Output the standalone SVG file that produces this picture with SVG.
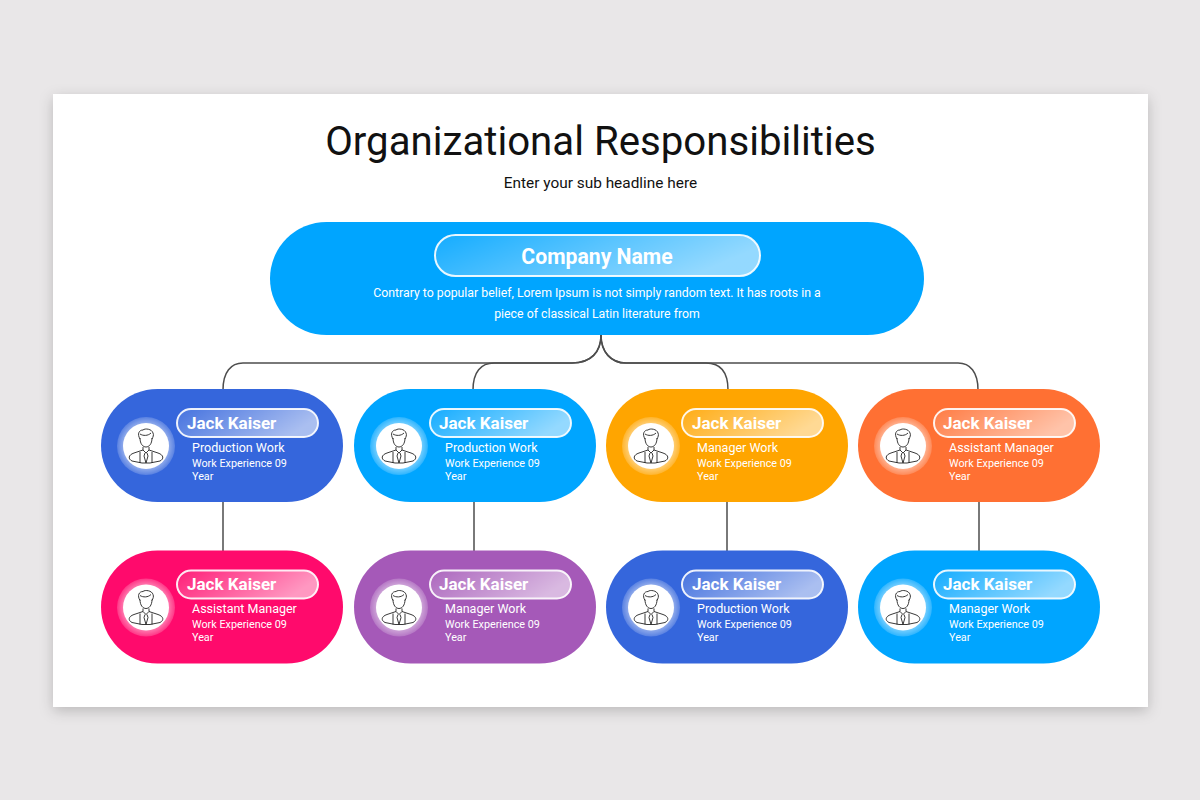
<svg xmlns="http://www.w3.org/2000/svg" xmlns:xlink="http://www.w3.org/1999/xlink" width="1200" height="800" viewBox="0 0 1200 800">
<style>
text{font-family:Roboto,"Liberation Sans",sans-serif;fill:#fff}
.t{fill:#111;text-anchor:middle}
.n{font-size:17px;font-weight:700}
.r{font-size:12.500px}
.w{font-size:10.800px}
.d{font-size:12.300px;text-anchor:middle}
.pill{fill:url(#glass);stroke:#fff;stroke-opacity:.9;stroke-width:2}
.c{fill:none;stroke:#4d4d4d;stroke-width:1.5}
.ic{fill:none;stroke:#222;stroke-width:.9}
</style>
<defs>
<linearGradient id="glass" x1="0" y1="0" x2="1" y2="0.3"><stop offset="0" stop-color="#fff" stop-opacity=".08"/><stop offset="1" stop-color="#fff" stop-opacity=".58"/></linearGradient>
<radialGradient id="halo"><stop offset=".7" stop-color="#fff" stop-opacity=".55"/><stop offset="1" stop-color="#fff" stop-opacity=".18"/></radialGradient>
<filter id="sh" x="-5%" y="-5%" width="110%" height="112%"><feDropShadow dx="0" dy="4" stdDeviation="7" flood-color="#000" flood-opacity=".2"/></filter>
<g id="person">
<circle cx="0" cy="0" r="29" fill="url(#halo)"/>
<circle cx="0" cy="0" r="23" fill="#fff"/>
<path class="ic" d="M-6-7C-9-12-7-16-3-16C-1-18 6-17 7-13C8-11 7-9 6-7M-6-12C-3-10 2-10 5-13M-6-8C-6-2-3 1 0 1C3 1 6-2 6-8M-3 1V4L-12 7C-18 9-18 13-14 15L-4 17H4L14 15C18 13 18 9 12 7L3 4V1M-3 4L0 7L3 4M-1 7L-2 10L0 17L2 10L1 7M-6 6V17M6 6V17"/>
</g>
<g id="card">
<use xlink:href="#person" x="45" y="57"/>
<rect class="pill" x="76" y="20" width="141" height="28" rx="14"/>
</g>
</defs>
<rect width="1200" height="800" fill="#e9e7e8"/>
<rect x="53" y="94" width="1095" height="613" fill="#fff" filter="url(#sh)"/>
<text class="t" x="600.500" y="155" font-size="40.200">Organizational Responsibilities</text>
<text class="t" x="600.500" y="188" font-size="15.400">Enter your sub headline here</text>
<g id="connectors">
<path class="c" d="M601 335C601 352 591 363 572 363H243C231 363 223 372 223 390"/>
<path class="c" d="M601 335C601 352 591 363 572 363H494C481 363 473 372 473 390"/>
<path class="c" d="M601 335C601 352 611 363 626 363H706C720 363 728 372 728 390"/>
<path class="c" d="M601 335C601 352 611 363 626 363H958C970 363 978 372 978 390"/>
<path class="c" d="M223 502V551M474 502V551M727 502V551M979 502V551"/>
</g>
<g id="root">
<rect x="270" y="222" width="654" height="113" rx="56.500" fill="#00a5ff"/>
<rect class="pill" x="435" y="235" width="325" height="41" rx="20.500"/>
<text x="597" y="264" font-size="21.200" font-weight="700" text-anchor="middle">Company Name</text>
<text class="d" x="597" y="297">Contrary to popular belief, Lorem Ipsum is not simply random text. It has roots in a</text>
<text class="d" x="597" y="318">piece of classical Latin literature from</text>
</g>
<g id="n1" transform="translate(101 389)"><rect width="242" height="113" rx="56.500" fill="#3566dc"/><use xlink:href="#card"/><text class="n" x="86" y="39.500">Jack Kaiser</text><text class="r" x="91" y="62.500">Production Work</text><text class="w" x="91" y="78">Work Experience 09</text><text class="w" x="91" y="91">Year</text></g>
<g id="n2" transform="translate(354 389)"><rect width="242" height="113" rx="56.500" fill="#00a5ff"/><use xlink:href="#card"/><text class="n" x="85" y="39.500">Jack Kaiser</text><text class="r" x="91" y="62.500">Production Work</text><text class="w" x="91" y="78">Work Experience 09</text><text class="w" x="91" y="91">Year</text></g>
<g id="n3" transform="translate(606 389)"><rect width="242" height="113" rx="56.500" fill="#ffa500"/><use xlink:href="#card"/><text class="n" x="86" y="39.500">Jack Kaiser</text><text class="r" x="91" y="62.500">Manager Work</text><text class="w" x="91" y="78">Work Experience 09</text><text class="w" x="91" y="91">Year</text></g>
<g id="n4" transform="translate(858 389)"><rect width="242" height="113" rx="56.500" fill="#ff7033"/><use xlink:href="#card"/><text class="n" x="85" y="39.500">Jack Kaiser</text><text class="r" x="91" y="62.500">Assistant Manager</text><text class="w" x="91" y="78">Work Experience 09</text><text class="w" x="91" y="91">Year</text></g>
<g id="n5" transform="translate(101 550.500)"><rect width="242" height="113" rx="56.500" fill="#ff0a6c"/><use xlink:href="#card"/><text class="n" x="86" y="39.500">Jack Kaiser</text><text class="r" x="91" y="62">Assistant Manager</text><text class="w" x="91" y="77.500">Work Experience 09</text><text class="w" x="91" y="90.500">Year</text></g>
<g id="n6" transform="translate(354 550.500)"><rect width="242" height="113" rx="56.500" fill="#a559b8"/><use xlink:href="#card"/><text class="n" x="85" y="39.500">Jack Kaiser</text><text class="r" x="91" y="62">Manager Work</text><text class="w" x="91" y="77.500">Work Experience 09</text><text class="w" x="91" y="90.500">Year</text></g>
<g id="n7" transform="translate(606 550.500)"><rect width="242" height="113" rx="56.500" fill="#3566dc"/><use xlink:href="#card"/><text class="n" x="86" y="39.500">Jack Kaiser</text><text class="r" x="91" y="62">Production Work</text><text class="w" x="91" y="77.500">Work Experience 09</text><text class="w" x="91" y="90.500">Year</text></g>
<g id="n8" transform="translate(858 550.500)"><rect width="242" height="113" rx="56.500" fill="#00a5ff"/><use xlink:href="#card"/><text class="n" x="85" y="39.500">Jack Kaiser</text><text class="r" x="91" y="62">Manager Work</text><text class="w" x="91" y="77.500">Work Experience 09</text><text class="w" x="91" y="90.500">Year</text></g>
</svg>
